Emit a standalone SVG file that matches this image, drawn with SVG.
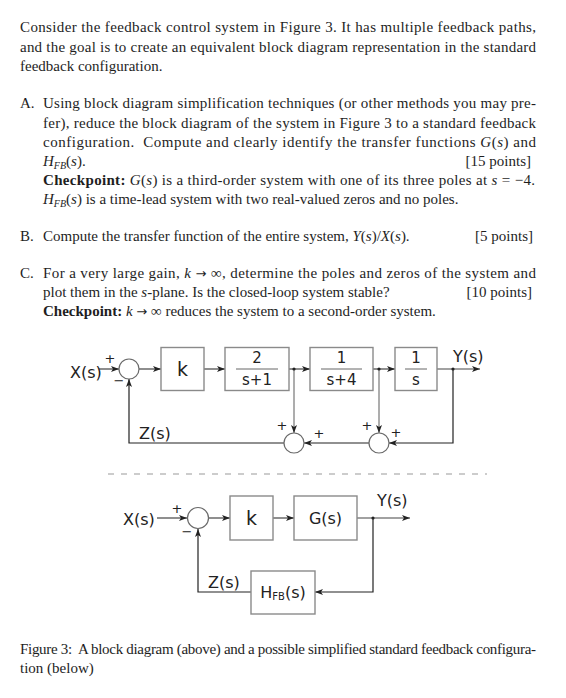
<svg xmlns="http://www.w3.org/2000/svg" width="566" height="698" viewBox="0 0 566 698">
<defs>
<style>
.t{font-family:"Liberation Serif","Times New Roman",serif;font-size:15px;fill:#1e1e1e}
.i{font-style:italic}
.b{font-weight:bold}
.ar{font-family:"DejaVu Sans",sans-serif;font-size:13px}
.d{font-family:"DejaVu Sans",Verdana,sans-serif;fill:#222}
.box{fill:#fff;stroke:#8a8a8a;stroke-width:1.4}
.sum{fill:#fff;stroke:#6a6a6a;stroke-width:1.2}
.fw{fill:none;stroke:#444;stroke-width:1.2}
.dr{fill:none;stroke:#8a8a8a;stroke-width:1.4}
.fb{fill:none;stroke:#222;stroke-width:1.2}
.bar{stroke:#666;stroke-width:1}
</style>
<marker id="ah" markerUnits="userSpaceOnUse" markerWidth="9" markerHeight="7" refX="8" refY="3.5" orient="auto">
<path d="M0,0.5 L8,3.5 L0,6.5 L2,3.5 z" fill="#222"/>
</marker>
</defs>
<rect width="566" height="698" fill="#fff"/>

<g id="problem-text">
<text class="t" x="20" y="32" textLength="516" lengthAdjust="spacing">Consider the feedback control system in Figure 3. It has multiple feedback paths,</text>
<text class="t" x="20" y="52" textLength="516" lengthAdjust="spacing">and the goal is to create an equivalent block diagram representation in the standard</text>
<text class="t" x="20" y="71">feedback configuration.</text>
<text class="t" x="20" y="108">A.</text>
<text class="t" x="43" y="108" textLength="493" lengthAdjust="spacing">Using block diagram simplification techniques (or other methods you may pre-</text>
<text class="t" x="43" y="128" textLength="493" lengthAdjust="spacing">fer), reduce the block diagram of the system in Figure 3 to a standard feedback</text>
<text class="t" x="43" y="147" textLength="493" lengthAdjust="spacing">configuration.&#160; Compute and clearly identify the transfer functions <tspan class="i">G</tspan>(<tspan class="i">s</tspan>) and</text>
<text class="t" x="43" y="166"><tspan class="i">H</tspan><tspan class="i" font-size="10" dy="3">FB</tspan><tspan dy="-3">(</tspan><tspan class="i">s</tspan>).</text>
<text class="t" x="531" y="166" text-anchor="end">[15 points]</text>
<text class="t" x="43" y="185" textLength="492" lengthAdjust="spacing"><tspan class="b">Checkpoint:</tspan> <tspan class="i">G</tspan>(<tspan class="i">s</tspan>) is a third-order system with one of its three poles at <tspan class="i">s</tspan> = −4.</text>
<text class="t" x="43" y="204"><tspan class="i">H</tspan><tspan class="i" font-size="10" dy="3">FB</tspan><tspan dy="-3">(</tspan><tspan class="i">s</tspan>) is a time-lead system with two real-valued zeros and no poles.</text>
<text class="t" x="20" y="241">B.</text>
<text class="t" x="43" y="241">Compute the transfer function of the entire system, <tspan class="i">Y</tspan>(<tspan class="i">s</tspan>)/<tspan class="i">X</tspan>(<tspan class="i">s</tspan>).</text>
<text class="t" x="533" y="241" text-anchor="end">[5 points]</text>
<text class="t" x="20" y="278">C.</text>
<text class="t" x="43" y="278" textLength="493" lengthAdjust="spacing">For a very large gain, <tspan class="i">k</tspan> <tspan class="ar">→</tspan> ∞, determine the poles and zeros of the system and</text>
<text class="t" x="43" y="297">plot them in the <tspan class="i">s</tspan>-plane. Is the closed-loop system stable?</text>
<text class="t" x="532" y="297" text-anchor="end">[10 points]</text>
<text class="t" x="43" y="316"><tspan class="b">Checkpoint:</tspan> <tspan class="i">k</tspan> <tspan class="ar">→</tspan> ∞ reduces the system to a second-order system.</text>
</g>

<g id="connectors">
<path class="fw" d="M99,369 H119" marker-end="url(#ah)"/>
<path class="fw" d="M139,369 H161" marker-end="url(#ah)"/>
<path class="fw" d="M204,369 H225" marker-end="url(#ah)"/>
<path class="fw" d="M289,369 H310" marker-end="url(#ah)"/>
<path class="fw" d="M373,369 H395" marker-end="url(#ah)"/>
<path class="fw" d="M437,369 H480" marker-end="url(#ah)"/>
<path class="dr" d="M294,369 V433" marker-end="url(#ah)"/>
<path class="dr" d="M379,369 V433" marker-end="url(#ah)"/>
<path class="fb" d="M453,369 V443 H389" marker-end="url(#ah)"/>
<path class="fb" d="M369,443 H304" marker-end="url(#ah)"/>
<path class="fb" d="M284,443 H129 V379" marker-end="url(#ah)"/>
<circle cx="294" cy="369" r="1.6" fill="#222"/>
<circle cx="379" cy="369" r="1.6" fill="#222"/>
<circle cx="453" cy="369" r="1.6" fill="#222"/>

<path d="M108,474 H487" stroke="#999" stroke-width="1.2" stroke-dasharray="6 7" fill="none"/>

<path class="fw" d="M157,518 H187" marker-end="url(#ah)"/>
<path class="fw" d="M209,518 H230" marker-end="url(#ah)"/>
<path class="fw" d="M273,518 H294" marker-end="url(#ah)"/>
<path class="fw" d="M357,518 H410" marker-end="url(#ah)"/>
<path class="fb" d="M373,518 V592 H315" marker-end="url(#ah)"/>
<path class="fb" d="M251,592 H198 V529" marker-end="url(#ah)"/>
<circle cx="373" cy="518" r="1.6" fill="#222"/>
</g>

<g id="top-labels">
<text class="d" x="70" y="378" font-size="16">X(s)</text>
<text class="d" x="453" y="362" font-size="16">Y(s)</text>
<text class="d" x="139" y="439" font-size="16">Z(s)</text>
</g>

<g id="sum1">
<circle class="sum" cx="129" cy="369" r="10"/>
<text class="d" x="110" y="363" font-size="13" text-anchor="middle">+</text>
<text class="d" x="119" y="385" font-size="13" text-anchor="middle">−</text>
</g>
<g id="block-k">
<rect class="box" x="161" y="347.5" width="43" height="43"/>
<text class="d" x="182.5" y="376" font-size="19" text-anchor="middle">k</text>
</g>
<g id="block-2-s1">
<rect class="box" x="225" y="347.5" width="64" height="43"/>
<text class="d" x="257" y="363" font-size="15" text-anchor="middle">2</text>
<line class="bar" x1="236" y1="369" x2="278" y2="369"/>
<text class="d" x="257" y="385" font-size="15" text-anchor="middle">s+1</text>
</g>
<g id="block-1-s4">
<rect class="box" x="310" y="347.5" width="63" height="43"/>
<text class="d" x="341.5" y="363" font-size="15" text-anchor="middle">1</text>
<line class="bar" x1="321" y1="369" x2="362" y2="369"/>
<text class="d" x="341.5" y="385" font-size="15" text-anchor="middle">s+4</text>
</g>
<g id="block-1-s">
<rect class="box" x="395" y="347.5" width="42" height="43"/>
<text class="d" x="416" y="363" font-size="15" text-anchor="middle">1</text>
<line class="bar" x1="405" y1="369" x2="427" y2="369"/>
<text class="d" x="416" y="385" font-size="15" text-anchor="middle">s</text>
</g>
<g id="sum2">
<circle class="sum" cx="294" cy="443" r="10"/>
<text class="d" x="282" y="430" font-size="13" text-anchor="middle">+</text>
<text class="d" x="319" y="438" font-size="13" text-anchor="middle">+</text>
</g>
<g id="sum3">
<circle class="sum" cx="379" cy="443" r="10"/>
<text class="d" x="367" y="430" font-size="13" text-anchor="middle">+</text>
<text class="d" x="396" y="437" font-size="13" text-anchor="middle">+</text>
</g>

<g id="bottom-labels">
<text class="d" x="123" y="525" font-size="16">X(s)</text>
<text class="d" x="377" y="506" font-size="16">Y(s)</text>
<text class="d" x="208" y="588" font-size="16">Z(s)</text>
</g>
<g id="sum-b">
<circle class="sum" cx="198" cy="518" r="10.5"/>
<text class="d" x="177" y="513" font-size="13" text-anchor="middle">+</text>
<text class="d" x="187" y="536" font-size="13" text-anchor="middle">−</text>
</g>
<g id="block-k-b">
<rect class="box" x="230" y="496" width="43" height="44"/>
<text class="d" x="251.5" y="525" font-size="19" text-anchor="middle">k</text>
</g>
<g id="block-G">
<rect class="box" x="294" y="496" width="63" height="44"/>
<text class="d" x="325.5" y="524" font-size="16" text-anchor="middle">G(s)</text>
</g>
<g id="block-HFB">
<rect class="box" x="251" y="571" width="64" height="43"/>
<text class="d" x="283" y="598" font-size="16" text-anchor="middle">H<tspan font-size="10" dy="2">FB</tspan><tspan dy="-2">(s)</tspan></text>
</g>

<g id="caption">
<text class="t" x="20" y="654" textLength="516" lengthAdjust="spacing">Figure 3:&#160; A block diagram (above) and a possible simplified standard feedback configura-</text>
<text class="t" x="20" y="673">tion (below)</text>
</g>
</svg>
